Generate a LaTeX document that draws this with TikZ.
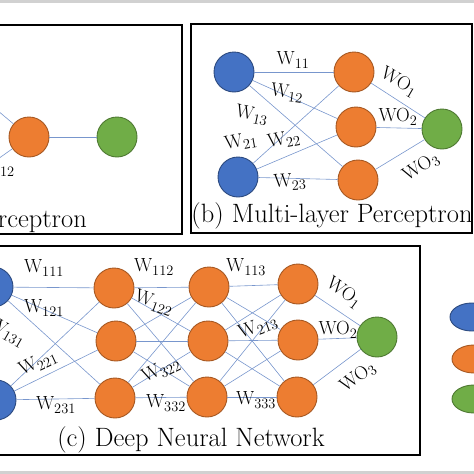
\documentclass[tikz,border=0pt]{standalone}
\usepackage{xcolor}
\usepackage{tikz}
\usepackage{amsmath}
\usetikzlibrary{shapes.geometric}

\definecolor{inblue}{HTML}{4472C4}
\definecolor{hidorange}{HTML}{ED7D31}
\definecolor{outgreen}{HTML}{70AD47}
\definecolor{linkblue}{RGB}{120,150,205}

\begin{document}
\begin{tikzpicture}[x=1pt, y=-1pt,
    inp/.style={circle, draw=inblue!65!black, fill=inblue, line width=0.9pt, minimum size=40pt, inner sep=0pt},
    hid/.style={circle, draw=hidorange!70!black, fill=hidorange, line width=0.9pt, minimum size=40pt, inner sep=0pt},
    outp/.style={circle, draw=outgreen!70!black, fill=outgreen, line width=0.9pt, minimum size=40pt, inner sep=0pt},
    lgd/.style={ellipse, line width=0.9pt, minimum width=44pt, minimum height=28pt, inner sep=0pt},
    wt/.style={font=\fontsize{19}{20}\selectfont, inner sep=0pt},
    caption/.style={font=\fontsize{26.5}{30}\selectfont, inner sep=0pt},
    frame/.style={draw=black, line width=2pt},
    link/.style={draw=linkblue, line width=0.6pt}]

    \useasboundingbox (0,0) rectangle (474,474);
    \fill[black!18] (0,0) rectangle (474,2.5);
    \fill[black!18] (0,471) rectangle (474,474);

    % (a) perceptron
    \draw[frame] (-200,25) rectangle (182,234);
    \node (ain1) [inp] at (-60,62) {};
    \node (ain2) [inp] at (-60,200) {};
    \node (ahid) [hid] at (29,137) {};
    \node (aout) [outp] at (117,137) {};
    \draw[link] (ain1) -- (ahid);
    \draw[link] (ain2) -- (ahid);
    \draw[link] (ahid) -- (aout);
    \node[wt, anchor=base east] at (15,173) {W$_{12}$};
    \node[caption, anchor=base east] at (87,227) {(a) Perceptron};

    % (b) multi-layer perceptron
    \draw[frame] (191,24) rectangle (472,233);
    \node (bin1) [inp] at (234,72) {};
    \node (bin2) [inp] at (238,177) {};
    \node (bh1) [hid] at (354,72) {};
    \node (bh2) [hid] at (356,127) {};
    \node (bh3) [hid] at (358,180) {};
    \node (bout) [outp] at (442,129) {};
    \foreach \i in {1,2}
        \foreach \j in {1,2,3}
            \draw[link] (bin\i) -- (bh\j);
    \foreach \j in {1,2,3}
        \draw[link] (bh\j) -- (bout);
    \node[wt] at (293,60) {W$_{11}$};
    \node[wt, rotate=-8] at (287,93) {W$_{12}$};
    \node[wt, rotate=-12] at (252,115) {W$_{13}$};
    \node[wt, rotate=10] at (241,142) {W$_{21}$};
    \node[wt, rotate=10] at (284,140) {W$_{22}$};
    \node[wt, rotate=3] at (290,182) {W$_{23}$};
    \node[wt, rotate=-30] at (399,82) {WO$_{1}$};
    \node[wt] at (398,117) {WO$_{2}$};
    \node[wt, rotate=33] at (421,167) {WO$_{3}$};
    \node[caption] at (332,216) {(b) Multi-layer Perceptron};

    % (c) deep neural network
    \draw[frame] (-50,246) rectangle (420,455);
    \node (cin1) [inp] at (-7,287) {};
    \node (cin2) [inp] at (-4,400) {};
    \node (ca1) [hid] at (114,288) {};
    \node (ca2) [hid] at (116,341) {};
    \node (ca3) [hid] at (115,398) {};
    \node (cb1) [hid] at (209,287) {};
    \node (cb2) [hid] at (208,341) {};
    \node (cb3) [hid] at (207,397) {};
    \node (cc1) [hid] at (298,284) {};
    \node (cc2) [hid] at (298,340) {};
    \node (cc3) [hid] at (297,397) {};
    \node (cout) [outp] at (377,337) {};
    \foreach \i in {1,2}
        \foreach \j in {1,2,3}
            \draw[link] (cin\i) -- (ca\j);
    \foreach \i in {1,2,3}
        \foreach \j in {1,2,3} {
            \draw[link] (ca\i) -- (cb\j);
            \draw[link] (cb\i) -- (cc\j);
        }
    \foreach \j in {1,2,3}
        \draw[link] (cc\j) -- (cout);
    \node[wt] at (44,268) {W$_{111}$};
    \node[wt] at (44,308) {W$_{121}$};
    \node[wt, rotate=-30] at (7,332) {W$_{131}$};
    \node[wt, rotate=25] at (38,363) {W$_{221}$};
    \node[wt] at (56,405) {W$_{231}$};
    \node[wt] at (154,267) {W$_{112}$};
    \node[wt, rotate=-20] at (154,303) {W$_{122}$};
    \node[wt, rotate=25] at (161,370) {W$_{322}$};
    \node[wt] at (166,403) {W$_{332}$};
    \node[wt] at (246,267) {W$_{113}$};
    \node[wt, rotate=20] at (258,327) {W$_{213}$};
    \node[wt] at (256,400) {W$_{333}$};
    \node[wt, rotate=-36] at (344,293) {WO$_{1}$};
    \node[wt] at (338,330) {WO$_{2}$};
    \node[wt, rotate=37] at (358,377) {WO$_{3}$};
    \node[caption] at (191,440) {(c) Deep Neural Network};

    % legend
    \node (linp) [lgd, draw=inblue!65!black, fill=inblue] at (472,317) {};
    \node (lhid) [lgd, draw=hidorange!70!black, fill=hidorange] at (474,359) {};
    \node (lout) [lgd, draw=outgreen!70!black, fill=outgreen] at (474,399) {};
\end{tikzpicture}
\end{document}
